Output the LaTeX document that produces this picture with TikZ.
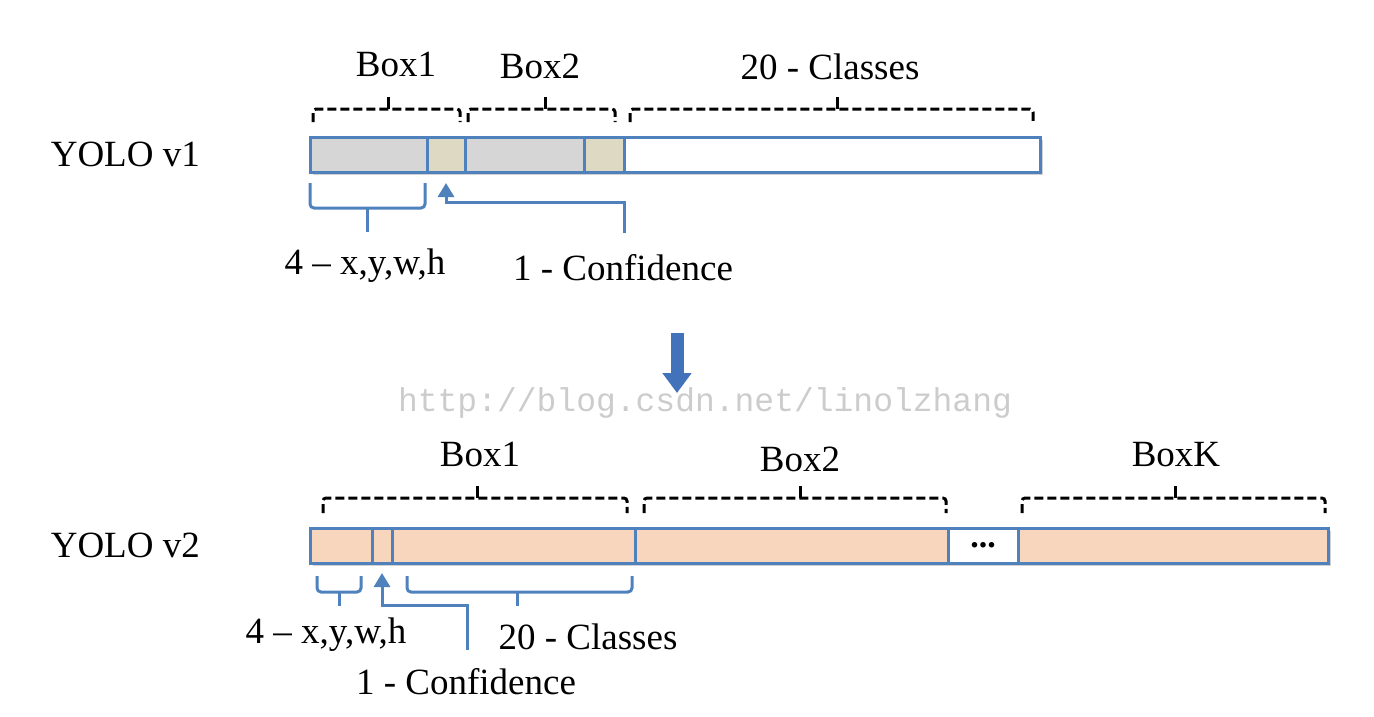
\documentclass[tikz,border=0pt]{standalone}
\usepackage{fontspec}
\setmainfont{Liberation Serif}
\setmonofont{Liberation Mono}
\usetikzlibrary{arrows.meta}
\usetikzlibrary{positioning}
\usetikzlibrary{shadows}
\definecolor{barblue}{RGB}{79,129,189}
\definecolor{arrowblue}{RGB}{66,114,186}
\definecolor{boxgray}{RGB}{214,214,214}
\definecolor{confkhaki}{RGB}{221,217,194}
\definecolor{boxpeach}{RGB}{248,214,190}
\definecolor{markgray}{RGB}{204,204,204}
\tikzset{seg/.style = {draw = barblue, line width = 3pt, minimum height = 35pt, inner sep = 0, outer sep = 0,
  drop shadow = {shadow xshift = 3pt, shadow yshift = -3pt, fill = black!18, opacity = 1}}}
\tikzset{lbl/.style = {font = \fontsize{37}{42}\selectfont, inner sep = 0}}
\tikzset{dbrace/.style = {black, line width = 3pt, dash pattern = on 9pt off 4pt, rounded corners = 3pt}}
\tikzset{bbrace/.style = {barblue, line width = 3pt, rounded corners = 4pt}}
\tikzset{conn/.style = {barblue, line width = 3pt, -{Triangle[width = 16pt, length = 14pt]}}}

\begin{document}
\begin{tikzpicture}[x = 1pt, y = -1pt]
  \useasboundingbox (0, 0) rectangle (1374, 716);

  \node [seg, fill = boxgray, minimum width = 117pt, anchor = west] (xya) at (310, 154.5) {};
  \node [seg, fill = confkhaki, minimum width = 38pt, right = 0pt of xya] (cfa) {};
  \node [seg, fill = boxgray, minimum width = 119pt, right = 0pt of cfa] (xyb) {};
  \node [seg, fill = confkhaki, minimum width = 40pt, right = 0pt of xyb] (cfb) {};
  \node [seg, fill = white, minimum width = 416pt, right = 0pt of cfb] (clsa) {};
  \node [lbl, left = 110pt of xya] (yoloa) {YOLO v1};

  \foreach \xa/\xb/\xm/\xt/\yt/\txt/\nm in {313/460/388/396/76/Box1/lboxa, 468/615/545/540/78/Box2/lboxb, 630/1033/837/830/79/20 - Classes/lclsa} {
    \draw [dbrace] (\xa, 122) -- (\xa, 109) -- (\xb, 109) -- (\xb, 122);
    \draw [black, line width = 3pt] (\xm, 109) -- (\xm, 97);
    \node [lbl, anchor = base] (\nm) at (\xt, \yt) {\txt};
  }

  \draw [bbrace] (310, 183) -- (310, 208) -- (425, 208) -- (425, 183);
  \draw [barblue, line width = 3pt] (367, 208) -- (367, 232);
  \node [lbl, anchor = base] (xywha) at (365, 274) {4 -- x,y,w,h};
  \coordinate (cfstarta) at (624, 233);
  \draw [conn, shorten > = 11pt] (cfstarta) -- ++(0, -31) -| (cfa.south);
  \node [lbl, anchor = base] (confa) at (623, 280) {1 - Confidence};

  \coordinate (downtop) at (677, 333);
  \coordinate (downtip) at (677, 393);
  \draw [arrowblue, line width = 13pt, -{Triangle[width = 28pt, length = 20pt]}] (downtop) -- (downtip);
  \node [font = \ttfamily\fontsize{33}{36}\selectfont, text = markgray, anchor = base, inner sep = 0] (mark) at (705, 411) {http://blog.csdn.net/linolzhang};

  \node [seg, fill = boxpeach, minimum width = 62pt, anchor = west] (xyc) at (310, 545.5) {};
  \node [seg, fill = boxpeach, minimum width = 20pt, right = 0pt of xyc] (cfc) {};
  \node [seg, fill = boxpeach, minimum width = 243pt, right = 0pt of cfc] (clsc) {};
  \node [seg, fill = boxpeach, minimum width = 313pt, right = 0pt of clsc] (boxc) {};
  \node [seg, fill = white, minimum width = 70pt, right = 0pt of boxc, font = \fontsize{34}{34}\selectfont\bfseries] (dots) {...};
  \node [seg, fill = boxpeach, minimum width = 310pt, right = 0pt of dots] (boxk) {};
  \node [lbl, left = 110pt of xyc] (yolob) {YOLO v2};

  \foreach \xa/\xb/\xm/\xt/\yt/\txt/\nm in {323/627/477/480/466/Box1/lboxc, 644/946/800/800/471/Box2/lboxd, 1022/1325/1175/1176/466/BoxK/lboxk} {
    \draw [dbrace] (\xa, 513) -- (\xa, 498) -- (\xb, 498) -- (\xb, 513);
    \draw [black, line width = 3pt] (\xm, 498) -- (\xm, 486);
    \node [lbl, anchor = base] (\nm) at (\xt, \yt) {\txt};
  }

  \draw [bbrace] (317, 576) -- (317, 592) -- (361, 592) -- (361, 576);
  \draw [barblue, line width = 3pt] (339, 592) -- (339, 606);
  \draw [bbrace] (407, 576) -- (407, 592) -- (632, 592) -- (632, 576);
  \draw [barblue, line width = 3pt] (517, 592) -- (517, 606);
  \node [lbl, anchor = base] (xywhc) at (326, 643) {4 -- x,y,w,h};
  \node [lbl, anchor = base] (clsb) at (588, 649) {20 - Classes};
  \coordinate (cfstartc) at (467, 650);
  \draw [conn, shorten > = 10pt] (cfstartc) -- ++(0, -45) -| (cfc.south);
  \node [lbl, anchor = base] (confc) at (466, 694) {1 - Confidence};
\end{tikzpicture}
\end{document}
